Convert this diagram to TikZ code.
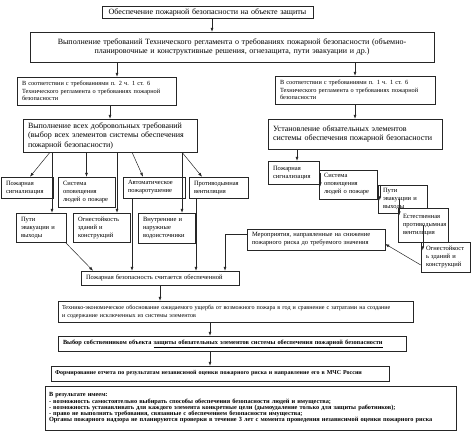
\documentclass[tikz,border=0pt]{standalone}
\usepackage{fontspec}
\setmainfont{Liberation Serif}
\usetikzlibrary{arrows.meta, shadows}

\begin{document}
\begin{tikzpicture}[
    x=1pt, y=-1pt,
    every node/.style={inner ysep=1pt},
    box/.style={draw=black!85, fill=white, line width=0.5pt, inner xsep=5pt, align=left},
    bigtext/.style={box, font=\fontsize{8pt}{9.5pt}\selectfont},
    midtext/.style={box, font=\fontsize{6.3pt}{7.5pt}\selectfont},
    smalltext/.style={box, font=\fontsize{6.5pt}{8pt}\selectfont},
    shadowed/.style={smalltext, drop shadow={shadow xshift=1.2pt, shadow yshift=-1.2pt, fill=black!55, opacity=1}},
    arr/.style={-{Latex[length=4pt, width=3pt]}, line width=0.5pt, black!85},
]
\useasboundingbox (0,0) rectangle (474,432);

% ---- Top of the chart ----
\node[bigtext, align=center, text width=201pt, minimum height=12pt] (top) at (207.5,12)
      {Обеспечение пожарной безопасности на объекте защиты};
\node[bigtext, align=center, text width=394pt, minimum height=30pt] (req) at (232,47)
      {Выполнение требований Технического регламента о требованиях пожарной безопасности (объемно-\\
       планировочные и конструктивные решения, огнезащита, пути эвакуации и др.)};

% ---- Two ways ----
\node[midtext, text width=149pt, minimum height=28pt] (reqB) at (96.5,91)
      {В соответствии с требованиями п. 2 ч. 1 ст. 6\\Технического регламента о требованиях пожарной\\безопасности};
\node[midtext, text width=150pt, minimum height=28pt] (reqA) at (355,90)
      {В соответствии с требованиями п. 1 ч. 1 ст. 6\\Технического регламента о требованиях пожарной\\безопасности};
\node[bigtext, text width=164pt, minimum height=33pt] (volun) at (110,135.5)
      {Выполнение всех добровольных требований\\(выбор всех элементов системы обеспечения\\пожарной безопасности)};
\node[bigtext, text width=164pt, minimum height=30pt] (oblig) at (355,134)
      {Установление обязательных элементов\\системы обеспечения пожарной безопасности};

% ---- Voluntary elements ----
\node[smalltext, text width=42pt, minimum height=21pt] (fa)    at (27,187.5)  {Пожарная\\сигнализация};
\node[smalltext, text width=47pt, minimum height=30pt] (warn)  at (86.5,192)  {Система\\оповещения\\людей о пожаре};
\node[smalltext, text width=52pt, minimum height=21pt] (ext)   at (154,187.5) {Автоматическое\\пожаротушение};
\node[smalltext, text width=49pt, minimum height=21pt] (smoke) at (218.5,187.5) {Противодымная\\вентиляция};
\node[smalltext, text width=40pt, minimum height=29pt] (evac)  at (41,227.5)  {Пути\\эвакуации и\\выходы};
\node[smalltext, text width=47pt, minimum height=29pt] (fire)  at (101.5,227.5) {Огнестойкость\\зданий и\\конструкций};
\node[smalltext, text width=47pt, minimum height=30pt] (water) at (166.5,228) {Внутренние и\\наружные\\водоисточники};
\node[smalltext, text width=148pt, minimum height=14pt] (safe) at (160,278)
      {Пожарная безопасность считается обеспеченной};

% ---- Obligatory elements (steps) ----
\node[smalltext, text width=41pt, minimum height=23pt] (rAlarm) at (293.5,172.5) {Пожарная\\сигнализация};
\node[smalltext, text width=48pt, minimum height=29pt] (rWarn)  at (348,184.5)   {Система\\оповещения\\людей о пожаре};
\node[smalltext, text width=39pt, minimum height=28pt] (rEvac)  at (402.5,199)   {Пути\\эвакуации и\\выходы};
\node[smalltext, text width=40pt, minimum height=34pt] (rSmoke) at (423,225)     {Естественная\\противодымная\\вентиляция};
\node[smalltext, text width=39pt, minimum height=30pt] (rFire)  at (445.5,257)   {Огнестойкост\\ь зданий и\\конструкций};
\node[smalltext, text width=128pt, minimum height=21pt] (risk) at (316,239.5)
      {Мероприятия, направленные на снижение\\пожарного риска до требуемого значения};

% ---- Bottom chain ----
\node[shadowed, font=\fontsize{6.1pt}{8pt}\selectfont, inner xsep=4pt, text width=347pt, minimum height=21pt] (econ) at (235.5,311.5)
      {Технико-экономическое обоснование ожидаемого ущерба от возможного пожара в год и сравнение с затратами на создание\\
       и содержание исключенных из системы элементов};
\node[shadowed, font=\fontsize{6.3pt}{8pt}\selectfont\bfseries, text width=338pt, minimum height=15pt] (choice) at (232,343.5)
      {Выбор собственником объекта \underline{защиты обязательных элементов системы обеспечения пожарной безопасности}};
\node[shadowed, font=\fontsize{6pt}{8pt}\selectfont\bfseries, inner xsep=4pt, text width=330pt, minimum height=15pt] (report) at (220,373.5)
      {Формирование отчета по результатам независимой оценки пожарного риска и направление его в МЧС России};
\node[shadowed, font=\fontsize{6.3pt}{6.2pt}\selectfont\bfseries, inner xsep=4pt, text width=403pt, minimum height=44pt] (result) at (250.5,408)
      {В результате имеем:\\
       - возможность самостоятельно выбирать способы обеспечения безопасности людей и имущества;\\
       - возможность устанавливать для каждого элемента конкретные цели (дымоудаление только для защиты работников);\\
       - право не выполнять требования, связанные с обеспечением безопасности имущества;\\
       Органы пожарного надзора не планируются проверки в течение 3 лет с момента проведения независимой оценки пожарного риска};

% ---- Arrows: top part ----
\draw[arr] ([xshift=4.5pt]top.south) -- ([xshift=4.5pt]top.south |- req.north);
\draw[arr] ([xshift=20.5pt]reqB.north |- req.south) -- ([xshift=20.5pt]reqB.north);
\draw[arr] (reqA.north |- req.south) -- (reqA.north);
\draw[arr] (reqB.south -| volun.north) -- (volun.north);
\draw[arr] (reqA.south) -- (oblig.north);

% ---- Arrows: voluntary elements ----
\draw[arr] ([xshift=-60pt]volun.south) -- ([xshift=3pt]fa.north);
\draw[arr] ([xshift=11pt]evac.north |- volun.south) -- ([xshift=11pt]evac.north);
\draw[arr] (warn.north |- volun.south) -- (warn.north);
\draw[arr] ([xshift=15.5pt]fire.north |- volun.south) -- ([xshift=15.5pt]fire.north);
\draw[arr] ([xshift=22pt]volun.south) -- ([xshift=-11pt]ext.north);
\draw[arr] ([xshift=15.5pt]water.north |- volun.south) -- ([xshift=15.5pt]water.north);
\draw[arr] ([xshift=72pt]volun.south) -- ([xshift=-16.5pt]smoke.north);

\draw[arr] ([xshift=-1pt]evac.south east) -- ([xshift=-67pt]safe.north);
\draw[arr] ([xshift=-22pt]ext.south) -- ([xshift=-22pt]ext.south |- safe.north);
\draw[arr] ([xshift=-22.5pt]smoke.south) -- ([xshift=-22.5pt]smoke.south |- safe.north);
\draw[arr] ([yshift=5.5pt]risk.west) -| ([xshift=65pt]safe.north);

% ---- Arrows: obligatory elements ----
\draw[arr] ([xshift=3.5pt]rAlarm.north |- oblig.south) -- ([xshift=3.5pt]rAlarm.north);
\draw[arr] ([xshift=1.5pt]rWarn.west |- rAlarm.east) -- ([xshift=1.5pt, yshift=-2pt]rWarn.west |- rAlarm.south);
\draw[arr] ([xshift=2pt]rEvac.west |- rWarn.east) -- ([xshift=2pt, yshift=-1pt]rEvac.west |- rWarn.south);
\draw[arr] ([xshift=1.5pt]rSmoke.west |- rEvac.east) -- ([xshift=1.5pt, yshift=-2pt]rSmoke.west |- rEvac.south);
\draw[arr] ([xshift=2pt]rFire.west |- rSmoke.east) -- ([xshift=2pt, yshift=-8pt]rFire.west |- rSmoke.south);
\draw[arr] ([yshift=-8pt]rFire.west) -- ([yshift=-4.5pt]risk.east);

% ---- Arrows: bottom chain ----
\draw[arr] (safe.south) -- (safe.south |- econ.north);
\draw[arr] ([xshift=-25.5pt]econ.south) -- ([xshift=-25.5pt]econ.south |- choice.north);
\draw[arr] ([xshift=-22pt]choice.south) -- ([xshift=-22pt]choice.south |- report.north);

\end{tikzpicture}
\end{document}
